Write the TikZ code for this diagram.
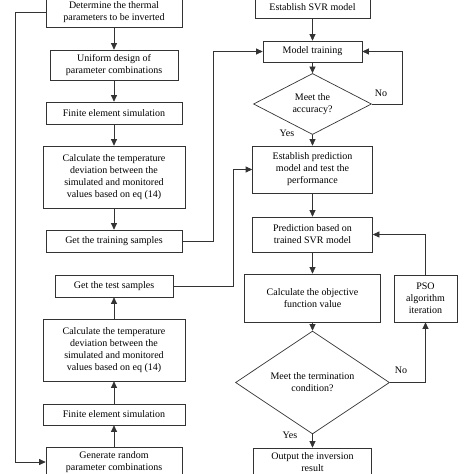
\documentclass[tikz,border=0pt]{standalone}
\usepackage{fontspec}
\setmainfont{Liberation Serif}
\usetikzlibrary{arrows.meta,shapes.geometric}
\begin{document}
\begin{tikzpicture}[
  box/.style={draw=black!80,line width=0.7pt,inner sep=0pt,align=center,
    font=\fontsize{10}{12}\selectfont},
  choice/.style={box,diamond},
  arr/.style={draw=black!80,line width=0.7pt,-{Triangle[length=6.5pt,width=6pt]}},
  lab/.style={font=\fontsize{10}{12}\selectfont,inner sep=0pt}]
  \begin{scope}[x=1pt,y=-1pt]
  \useasboundingbox (0,0) rectangle (474,474);
  % left column
  \node[box,minimum width=136pt,minimum height=30pt] (det) at (114,12)
  {Determine the thermal\\parameters to be inverted};
  \node[box,minimum width=128pt,minimum height=30pt] (uni) at (114,65)
  {Uniform design of\\parameter combinations};
  \node[box,minimum width=136pt,minimum height=22pt] (fea) at (114,113)
  {Finite element simulation};
  \node[box,minimum width=142pt,minimum height=62pt] (dev) at (114,177)
  {Calculate the temperature\\deviation between the\\simulated and monitored\\values based on eq (14)};
  \node[box,minimum width=136pt,minimum height=22pt] (train) at (114,241)
  {Get the training samples};
  \node[box,minimum width=118pt,minimum height=22pt] (test) at (114,286)
  {Get the test samples};
  \node[box,minimum width=142pt,minimum height=62pt] (devb) at (114,350)
  {Calculate the temperature\\deviation between the\\simulated and monitored\\values based on eq (14)};
  \node[box,minimum width=142pt,minimum height=21pt] (feb) at (114,414.5)
  {Finite element simulation};
  \node[box,minimum width=136pt,minimum height=30pt] (gen) at (114,462)
  {Generate random\\parameter combinations};
  % right column
  \node[box,minimum width=115pt,minimum height=22pt] (svr) at (312.5,7)
  {Establish SVR model};
  \node[box,minimum width=99pt,minimum height=21pt] (model) at (312.5,51.5)
  {Model training};
  \node[choice,minimum width=118pt,minimum height=42pt] (acc) at (312.5,104)
  {Meet the\\accuracy?};
  \node[box,minimum width=120pt,minimum height=47pt] (estab) at (312.5,169.5)
  {Establish prediction\\model and test the\\performance};
  \node[box,minimum width=120pt,minimum height=35pt] (pred) at (312.5,234.5)
  {Prediction based on\\trained SVR model};
  \node[box,minimum width=136pt,minimum height=48pt] (obj) at (312.5,298)
  {Calculate the objective\\function value};
  \node[choice,minimum width=154pt,minimum height=75pt] (term) at (312.5,382.5)
  {Meet the termination\\condition?};
  \node[box,minimum width=63pt,minimum height=47pt] (pso) at (425.5,298.5)
  {PSO\\algorithm\\iteration};
  \node[box,minimum width=118pt,minimum height=28pt] (out) at (312.5,462)
  {Output the inversion\\result};
  % labels
  \node[lab] (noa) at (381,93) {No};
  \node[lab] (yesa) at (287,133) {Yes};
  \node[lab] (nob) at (401,370) {No};
  \node[lab] (yesb) at (290,435) {Yes};
  % connectors
  \draw[arr] (det) -- (uni);
  \draw[arr] (uni) -- (fea);
  \draw[arr] (fea) -- (dev);
  \draw[arr] (dev) -- (train);
  \draw[arr] (det.west) -- ++(-30,0) |- (gen.west);
  \draw[arr] (gen) -- (feb);
  \draw[arr] (feb) -- (devb);
  \draw[arr] (devb) -- (test);
  \draw[arr] (train.east) -- ++(31,0) |- (model.west);
  \draw[arr] (test.east) -- ++(60,0) |- (estab.west);
  \draw[arr] (svr) -- (model);
  \draw[arr] (model) -- (acc);
  \draw[arr] (acc.east) -- ++(30,0) |- (model.east);
  \draw[arr] (acc) -- (estab);
  \draw[arr] (estab) -- (pred);
  \draw[arr] (pred) -- (obj);
  \draw[arr] (obj) -- (term);
  \draw[arr] (term.east) -| (pso.south);
  \draw[arr] (pso.north) |- (pred.east);
  \draw[arr] (term) -- (out);
  \end{scope}
\end{tikzpicture}
\end{document}
